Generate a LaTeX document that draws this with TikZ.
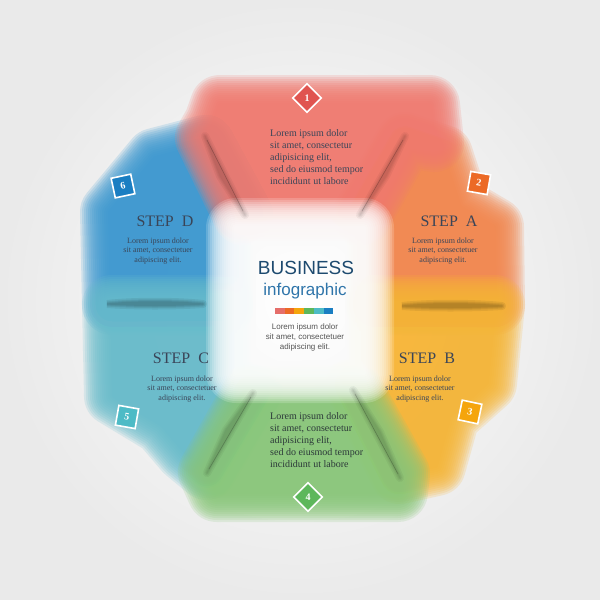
\documentclass[tikz,border=0pt]{standalone}
\usepackage{fontspec}
\setmainfont{Liberation Serif}
\setsansfont{Liberation Sans}
\usetikzlibrary{positioning,shapes.geometric}
\definecolor{bgrey}{HTML}{EAEAEA}
\definecolor{cred}{HTML}{EF7A70}
\definecolor{corange}{HTML}{F1874E}
\definecolor{cyellow}{HTML}{F8B637}
\definecolor{cgreen}{HTML}{8AC77A}
\definecolor{cteal}{HTML}{68BCCB}
\definecolor{cblue}{HTML}{3C98D0}
\definecolor{bred}{HTML}{E05450}
\definecolor{borange}{HTML}{EC6A26}
\definecolor{byellow}{HTML}{F5A50C}
\definecolor{bgreen}{HTML}{5DB75B}
\definecolor{bteal}{HTML}{4DBBC6}
\definecolor{bblue}{HTML}{1A7EC2}
\definecolor{inkdark}{HTML}{3A4558}
\definecolor{bizdark}{HTML}{1D4A6F}
\definecolor{bizlight}{HTML}{2F75AA}
\definecolor{inkgrey}{HTML}{555555}
% soft edged patch: colour, path
\newcommand{\softpatch}[2]{
\foreach \w in {4,8,...,60}{
  \begin{scope}[transparency group,opacity=.18]
  \path (0,0) rectangle (600,600);
  \fill[#1,draw=#1,line width=\w pt,line join=round] #2;
  \end{scope}}}
% soft shadow: opacity, path
\newcommand{\softshade}[2]{
\foreach \w in {1,3,5,8}{
  \begin{scope}[transparency group,opacity=#1]
  \path (0,0) rectangle (600,600);
  \fill[black,draw=black,line width=\w pt,line join=round] #2;
  \end{scope}}}

\begin{document}
\begin{tikzpicture}[x=1pt,y=-1pt,
  lorem/.style={font=\fontsize{10}{12}\selectfont,align=left,text=inkdark,inner sep=0},
  stepname/.style={font=\fontsize{16}{18}\selectfont,text=inkdark,inner sep=0},
  stepbody/.style={font=\fontsize{8}{9.5}\selectfont,align=center,text=inkdark,inner sep=0},
  badge/.style={draw=white,line width=1.6pt,inner sep=0,text=white,
    font=\fontsize{10}{10}\selectfont\bfseries},
  numbox/.style={badge,rectangle,minimum size=20pt},
  foldline/.style={black,opacity=.22,line width=.6pt}]
\shade[inner color=white,outer color=bgrey] (0,0) rectangle (600,600);

% coloured petals
\softpatch{cblue}{(155,158) -- (205,145) -- (243,215) -- (225,215) -- (225,305) -- (112,305) -- (110,212) -- cycle}
\softpatch{cteal}{(112,305) -- (225,305) -- (225,385) -- (253,393) -- (207,470) -- (185,452) -- (162,425) -- (114,396) -- cycle}
\softpatch{corange}{(405,142) -- (443,155) -- (460,207) -- (494,227) -- (495,305) -- (375,305) -- (375,215) -- (362,215) -- cycle}
\softpatch{cyellow}{(375,305) -- (495,305) -- (487,383) -- (450,416) -- (436,466) -- (400,474) -- (355,385) -- (375,385) -- cycle}
\softpatch{cgreen}{(253,392) -- (353,390) -- (400,474) -- (398,492) -- (217,492) -- (208,472) -- cycle}
\softpatch{cred}{(220,105) -- (430,105) -- (434,142) -- (405,138) -- (362,215) -- (243,215) -- (205,138) -- (214,122) -- cycle}

% centre
\softpatch{white}{(236,228) rectangle (364,373)}

% fold shadows
\softshade{.045}{(205,136) -- (245,215) -- (220,176) -- cycle}
\softshade{.045}{(405,136) -- (360,215) -- (386,176) -- cycle}
\softshade{.045}{(253,393) -- (207,473) -- (226,430) -- cycle}
\softshade{.045}{(353,390) -- (400,478) -- (380,432) -- cycle}
\draw[foldline] (207,140) -- (243,211);
\draw[foldline] (403,140) -- (362,211);
\draw[foldline] (251,397) -- (209,469);
\draw[foldline] (355,394) -- (398,474);
\softshade{.07}{(402,306) .. controls (430,303) and (470,303) .. (502,306) .. controls (470,308) and (430,308) .. (402,306)}
\softshade{.07}{(107,304) .. controls (135,301) and (175,301) .. (203,304) .. controls (175,306) and (135,306) .. (107,304)}

% texts
\node (toptext) [lorem,anchor=north west] at (270,129)
  {Lorem ipsum dolor\\sit amet, consectetur\\adipisicing elit,\\sed do eiusmod tempor\\incididunt ut labore};
\node (bottext) [lorem,anchor=north west,text=inkdark!80!cgreen!60!black] at (270,412)
  {Lorem ipsum dolor\\sit amet, consectetur\\adipisicing elit,\\sed do eiusmod tempor\\incididunt ut labore};

\node (stepA) [stepname] at (449,221) {STEP\ \ A};
\node (bodyA) [stepbody] at (443,251) {Lorem ipsum dolor\\sit amet, consectetuer\\adipiscing elit.};
\node (stepB) [stepname] at (427,358) {STEP\ \ B};
\node (bodyB) [stepbody] at (420,389) {Lorem ipsum dolor\\sit amet, consectetuer\\adipiscing elit.};
\node (stepC) [stepname] at (181,358) {STEP\ \ C};
\node (bodyC) [stepbody] at (182,389) {Lorem ipsum dolor\\sit amet, consectetuer\\adipiscing elit.};
\node (stepD) [stepname] at (165,221) {STEP\ \ D};
\node (bodyD) [stepbody] at (158,251) {Lorem ipsum dolor\\sit amet, consectetuer\\adipiscing elit.};

\node (biz) [font=\sffamily\fontsize{19}{19}\selectfont,text=bizdark,inner sep=0] at (306,268) {BUSINESS};
\node (info) [font=\sffamily\fontsize{17}{17}\selectfont,text=bizlight,inner sep=0] at (305,291) {infographic};
\foreach \c [count=\i from 0] in {bred!85!white,borange,byellow,bgreen,bteal,bblue}
  \fill[\c] (275+\i*9.7,308) rectangle ++(9.7,6);
\node (centext) [font=\sffamily\fontsize{8}{10}\selectfont,align=center,text=inkgrey,inner sep=0] at (305,337)
  {Lorem ipsum dolor\\sit amet, consectetuer\\adipiscing elit.};

% number badges
\node (n1) [badge,diamond,fill=bred,minimum size=29pt] at (307,98) {1};
\node (n2) [numbox,fill=borange,rotate=-10] at (479,183) {2};
\node (n3) [numbox,fill=byellow,rotate=-12] at (470,412) {3};
\node (n4) [badge,diamond,fill=bgreen,minimum size=29pt] at (308,497) {4};
\node (n5) [numbox,fill=bteal,rotate=-10] at (127,417) {5};
\node (n6) [numbox,fill=bblue,rotate=12] at (123,186) {6};
\end{tikzpicture}
\end{document}
